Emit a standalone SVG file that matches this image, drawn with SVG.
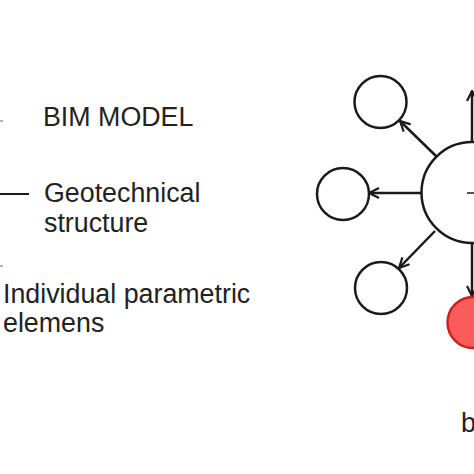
<svg xmlns="http://www.w3.org/2000/svg" width="474" height="474" viewBox="0 0 474 474">
<defs>
<style>
.n{fill:#fff;stroke:#1a1a1a;stroke-width:2.5}
.red{fill:#fa5c5c;stroke:#d41c1c;stroke-width:2.4}
.c{stroke:#1a1a1a;stroke-width:2.5;fill:none}
.t{font-family:"Liberation Sans",Arial,sans-serif;font-size:26.8px;fill:#222}
</style>
<marker id="ah" viewBox="0 0 12 12" refX="11" refY="6" markerWidth="12" markerHeight="12" markerUnits="userSpaceOnUse" orient="auto">
<path d="M1,1 L11,6 L1,11" fill="none" stroke="#1a1a1a" stroke-width="2.2"/>
</marker>
</defs>
<rect width="474" height="474" fill="#fff"/>
<g id="legend">
<line x1="0" y1="121" x2="3" y2="121" stroke="#999" stroke-width="1.5"/>
<text class="t" x="43" y="126">BIM MODEL</text>
<line x1="0" y1="194" x2="29" y2="194" stroke="#1a1a1a" stroke-width="2"/>
<text class="t" x="44" y="202">Geotechnical</text>
<text class="t" x="44" y="232">structure</text>
<line x1="0" y1="266" x2="3" y2="266" stroke="#999" stroke-width="1.5"/>
<text class="t" x="3" y="303">Individual parametric</text>
<text class="t" x="3" y="332">elemens</text>
</g>
<g id="connectors">
<line class="c" x1="472" y1="142" x2="472" y2="91" marker-end="url(#ah)"/>
<line class="c" x1="437" y1="157" x2="400" y2="121" marker-end="url(#ah)"/>
<line class="c" x1="421" y1="193" x2="369" y2="193" marker-end="url(#ah)"/>
<line class="c" x1="435" y1="231" x2="399" y2="268" marker-end="url(#ah)"/>
<line class="c" x1="472" y1="243" x2="472" y2="296" marker-end="url(#ah)"/>
</g>
<g id="center"><circle class="n" cx="472" cy="192.5" r="50.5"/><line x1="467" y1="193" x2="474" y2="193" stroke="#1a1a1a" stroke-width="1.5"/></g>
<g id="n1"><circle class="n" cx="380.5" cy="102" r="26"/></g>
<g id="n2"><circle class="n" cx="343" cy="194" r="26"/></g>
<g id="n3"><circle class="n" cx="381" cy="288" r="26"/></g>
<g id="n4"><circle class="red" cx="473" cy="322.5" r="25.5"/></g>
<text class="t" x="461" y="432">b</text>
</svg>
